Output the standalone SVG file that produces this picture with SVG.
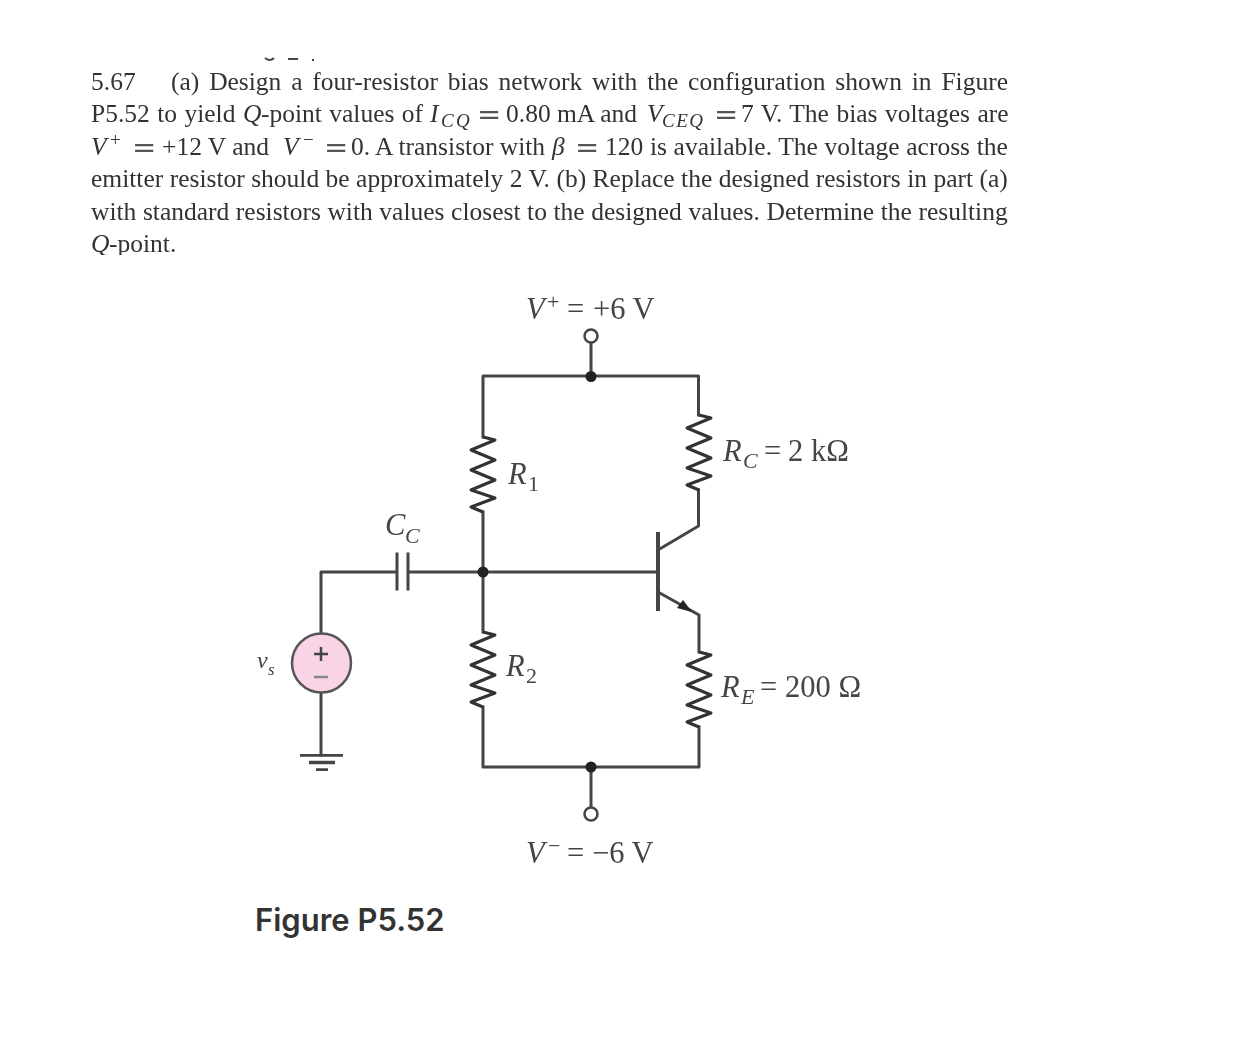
<svg xmlns="http://www.w3.org/2000/svg" width="1242" height="1050" viewBox="0 0 1242 1050">
<style>
.t{font-family:"Liberation Serif","Times New Roman",serif;font-size:25.5px;fill:#333}
.l{font-family:"Liberation Serif","Times New Roman",serif;font-size:30.5px;fill:#444}
.sub{font-size:19px}
.l .sub{font-size:22px}
.eq{font-family:"DejaVu Sans",sans-serif;font-size:29px;fill:#555}
.i{font-style:italic}
.w{fill:none;stroke:#444;stroke-width:3;stroke-linejoin:round;stroke-linecap:square}
.r{fill:none;stroke:#333;stroke-width:3;stroke-linejoin:round}
.d{fill:#222}
.f{font-family:Inter,Roboto,"Liberation Sans",sans-serif;font-weight:600;font-size:31px;fill:#333}
</style>
<defs>
<path id="res" d="M0 0L12 3L-12 13L12 23L-12 33L12 43L-12 53L12 61L-12 70L0 75"/>
<clipPath id="clipQ"><rect x="80" y="225" width="200" height="30"/></clipPath>
<filter id="soft" x="-5%" y="-5%" width="110%" height="110%"><feGaussianBlur stdDeviation="0.45"/></filter>
</defs>
<rect width="1242" height="1050" fill="#fff"/>
<g id="problem-text" filter="url(#soft)">
<path d="M265 58q5 4 9 0M288 59h10M313 59v2" fill="none" stroke="#444" stroke-width="2"/>
<text class="t" y="90"><tspan x="91">5.67</tspan><tspan x="171" word-spacing="3.45">(a) Design a four-resistor bias network with the configuration shown in Figure</tspan></text>
<text class="t" y="122"><tspan x="91" word-spacing="1">P5.52 to yield</tspan><tspan x="243" class="i">Q</tspan><tspan x="261" word-spacing="1">-point values of</tspan><tspan x="430" class="i">I</tspan><tspan x="441" y="127" class="i sub">C</tspan><tspan x="456" y="127" class="i sub">Q</tspan><tspan x="477" y="124" class="eq">=</tspan><tspan x="506" y="122">0.80 mA and</tspan><tspan x="647" class="i">V</tspan><tspan x="662" y="127" class="i sub" letter-spacing="1.5">CEQ</tspan><tspan x="714" y="124" class="eq">=</tspan><tspan x="741" y="122" word-spacing="1.1">7 V. The bias voltages are</tspan></text>
<text class="t" y="155"><tspan x="91" class="i">V</tspan><tspan x="110" y="146" class="sub">+</tspan><tspan x="132" y="157" class="eq">=</tspan><tspan x="162" y="155">+12 V and</tspan><tspan x="283" class="i">V</tspan><tspan x="303" y="146" class="sub">−</tspan><tspan x="324" y="157" class="eq">=</tspan><tspan x="351" y="155">0. A transistor with</tspan><tspan x="552" class="i">β</tspan><tspan x="575" y="157" class="eq">=</tspan><tspan x="605" y="155" word-spacing="0.3">120 is available. The voltage across the</tspan></text>
<text class="t" y="187" x="91" word-spacing="0.05">emitter resistor should be approximately 2 V. (b) Replace the designed resistors in part (a)</text>
<text class="t" y="220" x="91" word-spacing="0.2">with standard resistors with values closest to the designed values. Determine the resulting</text>
<g clip-path="url(#clipQ)"><text class="t" y="252"><tspan x="91" class="i">Q</tspan><tspan x="109">-point.</tspan></text></g>
</g>
<g id="connectors" filter="url(#soft)">
<path class="w" d="M591 342V376M483 437V376H698.500V415M698.500 490V526L658 550"/>
<path class="w" d="M483 512V632M483 707V767H699V727M699 652V615L658 592"/>
<path class="w" d="M591 767V807"/>
<path class="w" d="M321 633V572H396M409 572H658"/>
<path class="w" d="M321 693V755"/>
</g>
<g id="R1" filter="url(#soft)"><use href="#res" class="r" x="483" y="437"/><text class="l" y="484"><tspan x="508" class="i">R</tspan><tspan x="528" y="491" class="sub">1</tspan></text></g>
<g id="R2" filter="url(#soft)"><use href="#res" class="r" x="483" y="632"/><text class="l" y="676"><tspan x="506" class="i">R</tspan><tspan x="526" y="683" class="sub">2</tspan></text></g>
<g id="RC" filter="url(#soft)"><use href="#res" class="r" x="699" y="415"/><text class="l" y="461"><tspan x="723" class="i">R</tspan><tspan x="743" y="468" class="i sub">C</tspan><tspan x="764" y="461">=</tspan><tspan x="788">2 kΩ</tspan></text></g>
<g id="RE" filter="url(#soft)"><use href="#res" class="r" x="699" y="652"/><text class="l" y="697"><tspan x="721" class="i">R</tspan><tspan x="741" y="704" class="i sub">E</tspan><tspan x="760" y="697">=</tspan><tspan x="785">200 Ω</tspan></text></g>
<g id="CC" filter="url(#soft)"><path class="w" d="M397 554V589M408 554V589"/><text class="l" y="535"><tspan x="385" class="i">C</tspan><tspan x="405" y="543" class="i sub">C</tspan></text></g>
<g id="vs" filter="url(#soft)"><circle cx="321.500" cy="663" r="29.500" fill="#f9d3e6" stroke="#555" stroke-width="2.500"/><path d="M321 647V661M314 654H328" stroke="#444" stroke-width="2.500" fill="none"/><path d="M314 677H328" stroke="#888" stroke-width="2.500" fill="none"/><text class="l" y="668" style="font-size:24px"><tspan x="257" class="i">v</tspan><tspan x="268" y="675" class="i" style="font-size:17px">s</tspan></text></g>
<g id="ground" filter="url(#soft)"><path class="w" style="stroke-linecap:butt;stroke-width:3.500" d="M300 755H343M309 762.500H335M316 770H328"/></g>
<g id="transistor" filter="url(#soft)"><path class="w" style="stroke-width:4;stroke-linecap:butt" d="M658 532V611"/><path class="d" d="M692 612L677 608L683 600Z"/></g>
<g id="Vplus" filter="url(#soft)"><circle cx="591" cy="336" r="6.500" fill="#fff" stroke="#444" stroke-width="2.500"/><circle class="d" cx="591" cy="376.500" r="5.500"/><text class="l" y="319"><tspan x="526" class="i">V</tspan><tspan x="547" y="309" class="sub">+</tspan><tspan x="567" y="319">=</tspan><tspan x="593">+6 V</tspan></text></g>
<g id="Vminus" filter="url(#soft)"><circle cx="591" cy="814" r="6.500" fill="#fff" stroke="#444" stroke-width="2.500"/><circle class="d" cx="591" cy="767" r="5.500"/><text class="l" y="863"><tspan x="526" class="i">V</tspan><tspan x="548" y="853" class="sub">−</tspan><tspan x="567" y="863">=</tspan><tspan x="592">−6 V</tspan></text></g>
<g id="junction" filter="url(#soft)"><circle class="d" cx="483" cy="572" r="5.500"/></g>
<g id="caption"><text class="f" x="255" y="931">Figure P5.52</text></g>
</svg>
